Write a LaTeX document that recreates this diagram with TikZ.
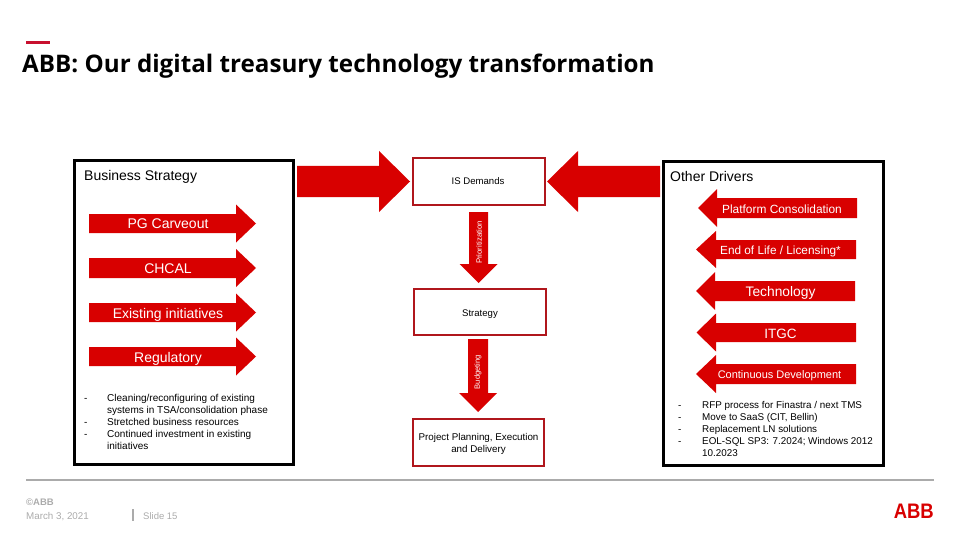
\documentclass[tikz,border=0pt]{standalone}
\usepackage{fontspec}
\setmainfont{Liberation Sans}
\newfontfamily\titlefont{Open Sans}
\definecolor{abbred}{HTML}{D80000}
\definecolor{boxred}{HTML}{B0161C}
\definecolor{barred}{HTML}{C8102E}
\definecolor{footgrey}{HTML}{ABABAB}
\newcommand{\fsz}[1]{\fontsize{#1}{#1}\selectfont}
% right-pointing and left-pointing block arrows: x tail, x head base, x tip, y, half shaft, half head
\newcommand{\hblock}[6]{\fill[blockarrow] (#1,#4-#5) -- (#2,#4-#5) -- (#2,#4-#6) -- (#3,#4) -- (#2,#4+#6) -- (#2,#4+#5) -- (#1,#4+#5) -- cycle;}
% down-pointing: x mid, y tail, y head base, y tip, half shaft, half head
\newcommand{\vblock}[6]{\fill[blockarrow] (#1-#5,#2) -- (#1+#5,#2) -- (#1+#5,#3) -- (#1+#6,#3) -- (#1,#4) -- (#1-#6,#3) -- (#1-#5,#3) -- cycle;}
\tikzset{
  x=1pt,y=-1pt,
  blockarrow/.style={fill=abbred},
  outerbox/.style={draw=black,line width=3pt,fill=white},
  flowbox/.style={draw=boxred,line width=2pt,fill=white,inner sep=0pt},
  lbl/.style={inner sep=0pt,anchor=base,text=white},
  vlbl/.style={inner sep=0pt,text=white,rotate=90},
  heading/.style={inner sep=0pt,anchor=base west,text=black,font=\fsz{14}},
  boxtext/.style={inner sep=0pt,anchor=base,text=black,font=\fsz{9.6}},
  listtext/.style={inner sep=0pt,anchor=base west,text=black,font=\fsz{10}},
  rlisttext/.style={inner sep=0pt,anchor=base west,text=black,font=\fsz{9.85}},
  foot/.style={inner sep=0pt,anchor=base west,text=footgrey},
}
\begin{document}
\begin{tikzpicture}
\useasboundingbox (0,0) rectangle (960,540);
\fill[barred] (26,41) rectangle (50,44);
\node[inner sep=0pt,anchor=base west,font=\titlefont\bfseries\fsz{24.2}] (title) at (22,72.5) {ABB: Our digital treasury technology transformation};

% boxes
\draw[outerbox] (74.5,160.5) rectangle (293.5,464.5);
\draw[outerbox] (663.5,161.5) rectangle (883.5,465.5);
\node[flowbox,minimum width=132pt,minimum height=47pt] (isd) at (479,181.5) {};
\node[boxtext] (isdt) at (478,185) {IS Demands};
\node[flowbox,minimum width=132pt,minimum height=46pt] (strat) at (480,312) {};
\node[boxtext] (stratt) at (480,316) {Strategy};
\node[flowbox,minimum width=131pt,minimum height=47pt] (proj) at (478.5,442.5) {};
\node[boxtext,font=\fsz{9.8}] (projt1) at (478.5,440) {Project Planning, Execution};
\node[boxtext,font=\fsz{9.8}] (projt2) at (478.5,452) {and Delivery};

% big arrows
\hblock{297}{379}{410}{181.5}{15.5}{30.5}
\hblock{660}{578}{547}{181.5}{15.5}{30.5}
\vblock{478.5}{212}{264}{283}{9.5}{19}
\vblock{478}{339}{393}{412}{10}{19}
\node[vlbl,font=\fsz{7.8}] (prio) at (479,242.5) {Prioritization};
\node[vlbl,font=\fsz{7.6}] (budg) at (478,372) {Budgeting};

% left arrows
\hblock{89}{236}{256}{223.5}{9.5}{19}
\hblock{89}{236}{256}{268}{10}{19}
\hblock{89}{236}{256}{312.5}{9.5}{19}
\hblock{89}{236}{256}{356.5}{9.5}{19}
\node[lbl,font=\fsz{14}] (pg) at (168,228) {PG Carveout};
\node[lbl,font=\fsz{14}] (chcal) at (168,273) {CHCAL};
\node[lbl,font=\fsz{14}] (exi) at (168,318) {Existing initiatives};
\node[lbl,font=\fsz{14}] (reg) at (168,362) {Regulatory};

% right arrows
\hblock{857}{717}{698}{208}{10}{19}
\hblock{856}{716}{696}{249.5}{9.5}{18.5}
\hblock{855}{715}{696}{291}{10}{19}
\hblock{856}{716}{696.5}{332.5}{9.5}{19}
\hblock{856}{716}{696}{374}{10}{19}
\node[lbl,font=\fsz{11.9}] (plat) at (782,213) {Platform Consolidation};
\node[lbl,font=\fsz{11.8}] (eol) at (780.5,254) {End of Life / Licensing*};
\node[lbl,font=\fsz{13.8}] (tech) at (780.5,296) {Technology};
\node[lbl,font=\fsz{13.5}] (itgc) at (780.5,338) {ITGC};
\node[lbl,font=\fsz{11}] (cont) at (779.5,378) {Continuous Development};

% headings
\node[heading] (bs) at (84,181) {Business Strategy};
\node[heading] (od) at (670,182) {Other Drivers};

% left list
\node[listtext] (ld1) at (84,401) {-};
\node[listtext] (ld2) at (84,425) {-};
\node[listtext] (ld3) at (84,437) {-};
\node[listtext] (l1) at (107,401) {Cleaning/reconfiguring of existing};
\node[listtext] (l2) at (107,413) {systems in TSA/consolidation phase};
\node[listtext] (l3) at (107,425) {Stretched business resources};
\node[listtext] (l4) at (107,437) {Continued investment in existing};
\node[listtext] (l5) at (107,449) {initiatives};

% right list
\node[rlisttext] (rd1) at (678,408) {-};
\node[rlisttext] (rd2) at (678,420) {-};
\node[rlisttext] (rd3) at (678,432) {-};
\node[rlisttext] (rd4) at (678,444) {-};
\node[rlisttext] (r1) at (702,408) {RFP process for Finastra / next TMS};
\node[rlisttext] (r2) at (702,420) {Move to SaaS (CIT, Bellin)};
\node[rlisttext] (r3) at (702,432) {Replacement LN solutions};
\node[rlisttext] (r4) at (702,444) {EOL-SQL SP3: 7.2024; Windows 2012};
\node[rlisttext] (r5) at (702,456) {10.2023};

% footer
\draw[footgrey,line width=2pt] (26,480) -- (934,480);
\node[foot,font=\bfseries\fsz{9.5}] (copy) at (26,505) {©ABB};
\node[foot,font=\fsz{9.8}] (date) at (26,519) {March 3, 2021};
\draw[footgrey,line width=2pt] (133,509) -- (133,521);
\node[foot,font=\fsz{9.5}] (slide) at (143,519) {Slide 15};
\node[inner sep=0pt,anchor=base east,text=abbred,font=\bfseries\fsz{21},xscale=.88] (logo) at (934,518) {ABB};
\end{tikzpicture}
\end{document}
